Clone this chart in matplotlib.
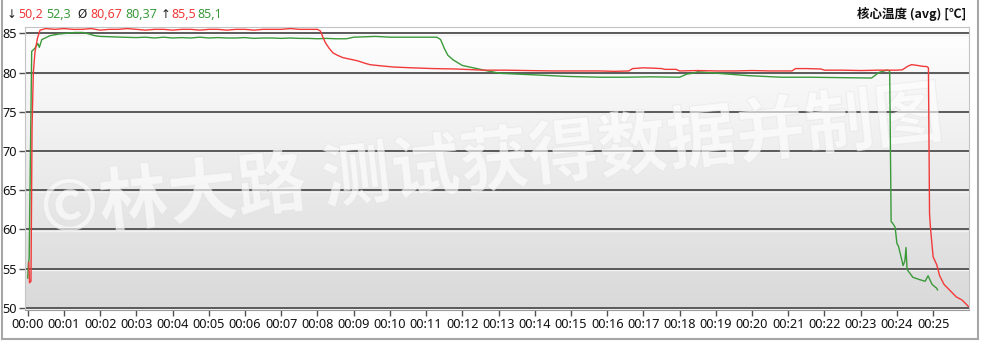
import numpy as np
import matplotlib
matplotlib.use('Agg')
import matplotlib.pyplot as plt
import matplotlib.patheffects as pe
from matplotlib.lines import Line2D
from matplotlib.colors import LinearSegmentedColormap

plt.rcParams['font.family'] = ['Noto Sans', 'Noto Sans CJK SC', 'DejaVu Sans']

# minutes, degC
red_t = [0.03, 0.05, 0.09, 0.12, 0.155, 0.2, 0.27, 0.34,
         0.5, 0.75, 1.0, 1.25, 1.5, 1.75, 2.0, 2.25, 2.5, 2.75, 3.0, 3.25, 3.5, 3.75,
         4.0, 4.25, 4.5, 4.75, 5.0, 5.25, 5.5, 5.75, 6.0, 6.25, 6.5, 6.75, 7.0, 7.25,
         7.5, 7.75, 8.0,
         8.08, 8.16, 8.22, 8.32, 8.43, 8.55, 8.7, 8.9, 9.1, 9.3, 9.45, 9.75, 10.1, 10.6,
         11.2, 11.8, 12.6, 13.2, 13.8, 14.5, 15.2, 15.8, 16.2, 16.6, 16.7, 17.0, 17.3,
         17.5, 17.6, 17.9, 18.0, 18.5, 19.0, 19.5, 20.0, 20.5, 21.1, 21.2, 21.5, 21.9,
         22.0, 22.5, 23.0, 23.5, 24.0, 24.15, 24.3, 24.4, 24.5, 24.7, 24.83, 24.87,
         24.9, 24.93, 25.0, 25.05, 25.1, 25.18, 25.3, 25.45, 25.64, 25.8, 25.93, 25.97]
red_v = [55.8, 53.2, 53.4, 73.0, 80.0, 82.6, 84.4, 85.4,
         85.6, 85.5, 85.6, 85.5, 85.5, 85.6, 85.4, 85.5, 85.5, 85.6, 85.5, 85.4, 85.5, 85.5,
         85.4, 85.5, 85.5, 85.4, 85.5, 85.5, 85.4, 85.5, 85.5, 85.4, 85.5, 85.5, 85.5, 85.6,
         85.5, 85.5, 85.5,
         85.3, 84.4, 83.8, 83.1, 82.5, 82.2, 81.9, 81.7, 81.5, 81.2, 81.0, 80.85, 80.7, 80.6,
         80.5, 80.45, 80.3, 80.3, 80.25, 80.2, 80.2, 80.2, 80.15, 80.2, 80.5, 80.6, 80.55,
         80.5, 80.4, 80.4, 80.2, 80.25, 80.2, 80.2, 80.25, 80.2, 80.2, 80.5, 80.5, 80.45,
         80.3, 80.3, 80.25, 80.3, 80.3, 80.35, 80.8, 81.0, 80.95, 80.8, 80.75, 80.6,
         62.0, 60.0, 56.5, 56.0, 55.5, 54.1, 53.0, 52.3, 51.4, 51.0, 50.4, 50.2]

green_t = [0.0, 0.02, 0.04, 0.11, 0.2, 0.28, 0.32, 0.39, 0.62, 0.85, 1.08, 1.3, 1.53,
           1.7, 1.85, 2.0, 2.3, 2.6, 3.0, 3.25, 3.5, 3.75, 4.0, 4.25, 4.5, 4.75, 5.0,
           5.25, 5.5, 5.75, 6.0, 6.25, 6.5, 6.75, 7.0, 7.25, 7.5, 7.75, 8.0, 8.25, 8.5,
           8.8, 9.0, 9.3, 9.6, 10.0, 10.5, 11.0, 11.3, 11.4, 11.5, 11.6, 11.75, 12.0,
           12.3, 12.7, 13.05, 14.0, 14.9, 15.8, 16.5, 17.2, 18.0, 18.2, 18.35, 18.5,
           19.2, 19.9, 20.8, 21.6, 22.4, 23.3, 23.5, 23.72, 23.8, 23.84, 23.88, 23.95,
           24.0, 24.04, 24.14, 24.17, 24.22, 24.25, 24.28, 24.44, 24.63, 24.78, 24.86,
           24.97, 25.1, 25.12]
green_v = [53.8, 55.7, 56.3, 82.7, 83.1, 83.7, 83.2, 84.2, 84.7, 84.9, 85.0, 85.1, 85.1,
           84.9, 84.7, 84.6, 84.55, 84.5, 84.45, 84.5, 84.4, 84.5, 84.4, 84.45, 84.4, 84.5,
           84.4, 84.45, 84.4, 84.4, 84.45, 84.35, 84.4, 84.4, 84.35, 84.4, 84.35, 84.35,
           84.3, 84.35, 84.3, 84.3, 84.5, 84.55, 84.6, 84.5, 84.5, 84.5, 84.5, 84.2, 83.1,
           82.2, 81.6, 80.9, 80.6, 80.2, 79.9, 79.7, 79.5, 79.4, 79.4, 79.45, 79.4, 79.8,
           79.9, 80.1, 79.85, 79.6, 79.4, 79.4, 79.35, 79.3, 80.0, 80.3, 80.2, 61.0, 60.8,
           60.3, 58.2, 57.9, 56.0, 55.4, 56.0, 57.7, 54.9, 53.9, 53.6, 53.4, 54.1, 53.0,
           52.5, 52.3]

y_ticks = [50, 55, 60, 65, 70, 75, 80, 85]
x_ticks = list(range(0, 26))
x_labels = ['00:%02d' % m for m in x_ticks]

title = '核心温度 (avg) [℃]'
stats = [('↓', ['50,2', '52,3']), ('Ø', ['80,67', '80,37']), ('↑', ['85,5', '85,1'])]
watermark = '©林大路 测试获得数据并制图'

RED = '#f23a3a'
GREEN = '#3a9a3a'

W, H = 981, 342
fig = plt.figure(figsize=(W / 100, H / 100), dpi=100)

def fx(x):
    return x / W

def fy(y):
    return 1 - y / H

ax = fig.add_axes([fx(25), fy(309.5), fx(969) - fx(25), fy(27) - fy(309.5)])
ax.set_xlim(-0.075, 25.99)
ax.set_ylim(49.8, 85.8)

# gradient background
grad = np.linspace(1.0, 0.0, 256).reshape(-1, 1)
cm = LinearSegmentedColormap.from_list('bg', ['#d9d9d9', '#ffffff'])
ax.imshow(grad, cmap=cm, aspect='auto', extent=[-0.075, 25.99, 49.8, 85.8],
          zorder=0, origin='upper')

# grid lines
for yv in y_ticks:
    ax.axhline(yv - 0.17, color='#f2f2f2', lw=1.0, zorder=1)
    ax.axhline(yv, color='#5a5a5a', lw=1.4, zorder=1)

# watermark
ax.text(0.495, 0.515, watermark, transform=ax.transAxes, rotation=6.2,
        ha='center', va='center', fontsize=50, fontweight='bold',
        family=['Noto Sans CJK SC', 'DejaVu Sans'], color='white', alpha=0.4, zorder=2,
        path_effects=[pe.withStroke(linewidth=1.0, foreground='#dedede')])

ax.plot(green_t, green_v, color=GREEN, lw=1.0, zorder=3)
ax.plot(red_t, red_v, color=RED, lw=1.0, zorder=4)

ax.set_yticks(y_ticks)
ax.set_xticks(x_ticks)
ax.set_xticklabels(x_labels)
ax.tick_params(axis='both', direction='out', length=4, width=1, color='#505050',
               labelsize=9.2, labelcolor='#111111', pad=2)
for s in ['top', 'right', 'left']:
    ax.spines[s].set_color('#c4c4c4')
ax.spines['bottom'].set_color('#9a9a9a')

# header
pos = [(7, 18, 46), (77, 90, 125), (161, 171, 197)]
for (sym, vals), (xs, xr, xg) in zip(stats, pos):
    fig.text(fx(xs), fy(14), sym, fontsize=8.5, va='center', color='#222222',
             family=['DejaVu Sans'])
    fig.text(fx(xr), fy(14), vals[0], fontsize=9, va='center', color=RED)
    fig.text(fx(xg), fy(14), vals[1], fontsize=9, va='center', color=GREEN)

fig.text(fx(966), fy(14), title, fontsize=9, fontweight='bold', ha='right', va='center',
         family=['Noto Sans CJK SC', 'DejaVu Sans'], color='#111111')

# outer frame
fc = '#a6a6a6'
fig.add_artist(Line2D([fx(1.5), fx(1.5)], [fy(0), fy(339)], color=fc, lw=1.5))
fig.add_artist(Line2D([fx(978), fx(978)], [fy(0), fy(339)], color=fc, lw=1.5))
fig.add_artist(Line2D([fx(1.5), fx(978)], [fy(339), fy(339)], color=fc, lw=1.5))

fig.savefig('out.png', dpi=100, facecolor='white')
